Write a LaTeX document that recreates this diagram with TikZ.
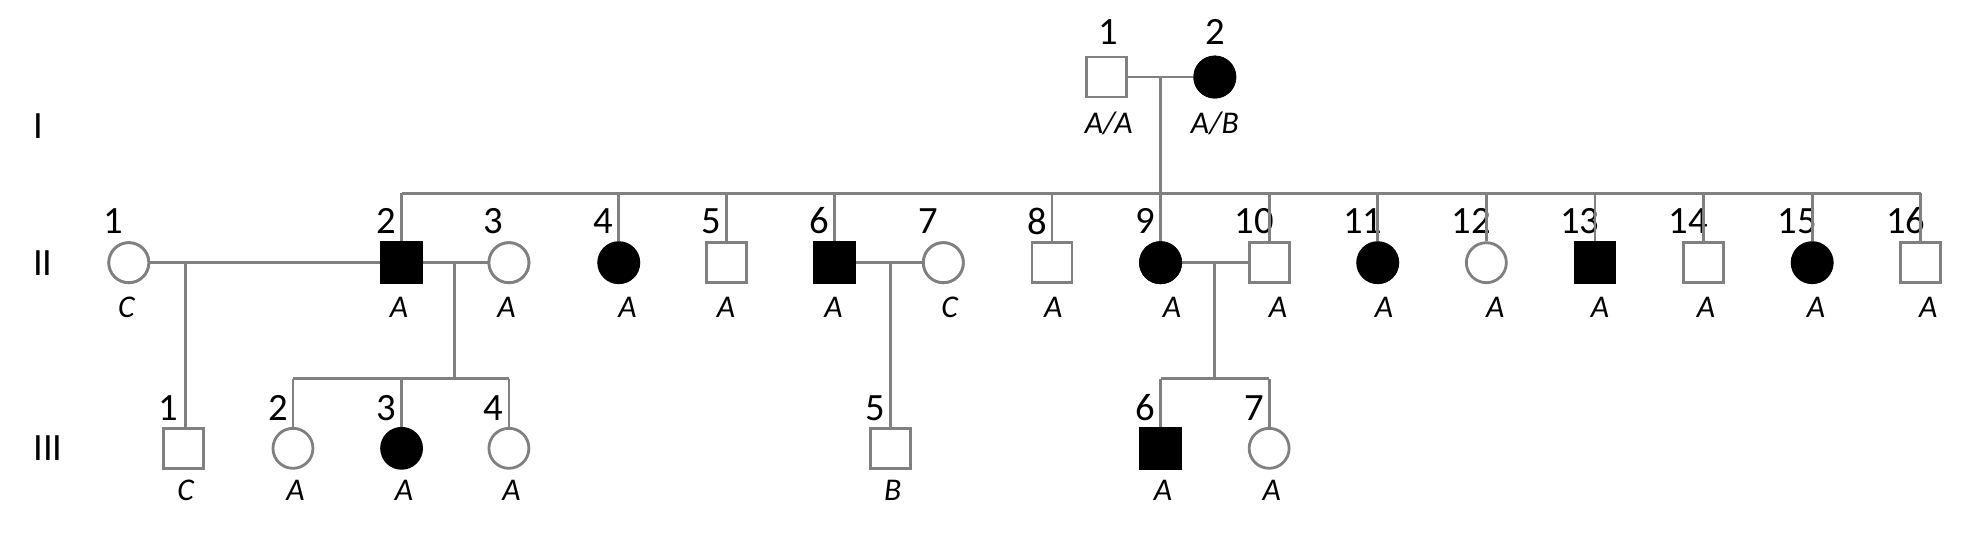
\documentclass[tikz,border=0pt]{standalone}
\usepackage{fontspec}
\setmainfont{Carlito}
\begin{document}
\begin{tikzpicture}[x=0.01263cm, y=-0.01263cm,
        male/.style={rectangle, draw=gray, line width=0.8pt, fill=white, minimum size=0.40cm, inner sep=0pt},
        female/.style={circle, draw=gray, line width=0.8pt, fill=white, minimum size=0.40cm, inner sep=0pt},
        aff/.style={fill=black, draw=black},
        num/.style={font=\fontsize{11}{12}\selectfont, inner sep=0pt},
        geno/.style={font=\fontsize{9}{10}\itshape\selectfont, inner sep=0pt},
        line/.style={draw=gray, line width=0.8pt}
    ]
        \useasboundingbox (0,0) rectangle (1560,423);
        % generation labels
        \node[num] (gI) at (30,100) {I};
        \node[num] (gII) at (34,208) {II};
        \node[num] (gIII) at (38,355) {III};

        % generation I
        \node[male] (I1) at (876,61) {};
        \node[female, aff] (I2) at (962,61) {};
        \node[num] at (878,25) {1};
        \node[num] at (962,25) {2};
        \node[geno] at (878,98) {A/A};
        \node[geno] at (962,98) {A/B};

        % generation II
        \foreach \n/\x/\s/\g in {1/102/female/C\slash D, 2/318/male/A/B, 3/403/female/A/A,
            4/490/female/A/A, 5/575/male/A/A, 6/661/male/A/B, 7/747/female/C/C,
            8/833/male/A/A, 9/919/female/A/B, 10/1005/male/A/A, 11/1091/female/A/B,
            12/1177/female/A/B, 13/1263/male/A/B, 14/1349/male/A/A, 15/1435/female/A/B,
            16/1521/male/A/A}{
            \node[\s] (II\n) at (\x,208) {};
            \node[num] at (\x-12,175) {\n};
        }
        \foreach \n in {2,4,6,9,11,13,15}{ \node[aff, fill=black] at (II\n) {}; }
        \foreach \n/\x/\g in {1/100/C/D, 2/316/A/B, 3/401/A/A, 4/497/A/A, 5/575/A/A,
            6/660/A/B, 7/752/C/C, 8/834/A/A, 9/928/A/B, 10/1012/A/A, 11/1096/A/B,
            12/1184/A/B, 13/1267/A/B, 14/1351/A/A, 15/1438/A/B, 16/1527/A/A}{
            \node[geno] at (\x,243) {\g};
        }
        % redraw affected symbols filled
        \node[male, aff] at (II2) {};
        \node[female, aff] at (II4) {};
        \node[male, aff] at (II6) {};
        \node[female, aff] at (II9) {};
        \node[female, aff] at (II11) {};
        \node[male, aff] at (II13) {};
        \node[female, aff] at (II15) {};

        % generation III
        \node[male] (III1) at (145,355) {};
        \node[female] (III2) at (232,355) {};
        \node[female, aff] (III3) at (318,355) {};
        \node[female] (III4) at (403,355) {};
        \node[male] (III5) at (705,355) {};
        \node[male, aff] (III6) at (919,355) {};
        \node[female] (III7) at (1005,355) {};
        \foreach \n/\x/\g in {1/145/C/B, 2/232/A/A, 3/318/A/B, 4/403/A/A,
            5/705/B/C, 6/919/A/B, 7/1005/A/B}{
            \node[num] at (\x-12,323) {\n};
            \node[geno] at (\x+2,388) {\g};
        }

        % lines
        \coordinate (m0) at (919,61);
        \coordinate (s0) at (919,153);
        \draw[line] (I1) -- (I2);
        \draw[line] (m0) -- (s0);
        \draw[line] (II2.north |- s0) -- (II16.north |- s0);
        \foreach \n in {2,4,5,6,8,9,10,11,12,13,14,15,16}{
            \draw[line] (II\n.north |- s0) -- (II\n.north);
        }
        % marriage II1 x II2
        \draw[line] (II1) -- (II2);
        \coordinate (m1) at (147,208);
        \draw[line] (m1) -- (m1 |- III1.north);
        % marriage II2 x II3
        \draw[line] (II2) -- (II3);
        \coordinate (m2) at (360,208);
        \coordinate (s2) at (360,300);
        \draw[line] (m2) -- (s2);
        \draw[line] (III2.north |- s2) -- (III4.north |- s2);
        \foreach \n in {2,3,4}{ \draw[line] (III\n.north |- s2) -- (III\n.north); }
        % marriage II6 x II7
        \draw[line] (II6) -- (II7);
        \coordinate (m3) at (705,208);
        \draw[line] (m3) -- (III5.north);
        % marriage II9 x II10
        \draw[line] (II9) -- (II10);
        \coordinate (m4) at (962,208);
        \coordinate (s4) at (962,300);
        \draw[line] (m4) -- (s4);
        \draw[line] (III6.north |- s4) -- (III7.north |- s4);
        \foreach \n in {6,7}{ \draw[line] (III\n.north |- s4) -- (III\n.north); }
        % redraw symbols over lines
        \node[male] at (I1) {};
        \node[female, aff] at (I2) {};
        \foreach \n in {1,3,5,7,8,10,14,16}{ }
        \node[female] at (II1) {};
        \node[male, aff] at (II2) {};
        \node[female] at (II3) {};
        \node[male, aff] at (II6) {};
        \node[female] at (II7) {};
        \node[female, aff] at (II9) {};
        \node[male] at (II10) {};
    \end{tikzpicture}
\end{document}
